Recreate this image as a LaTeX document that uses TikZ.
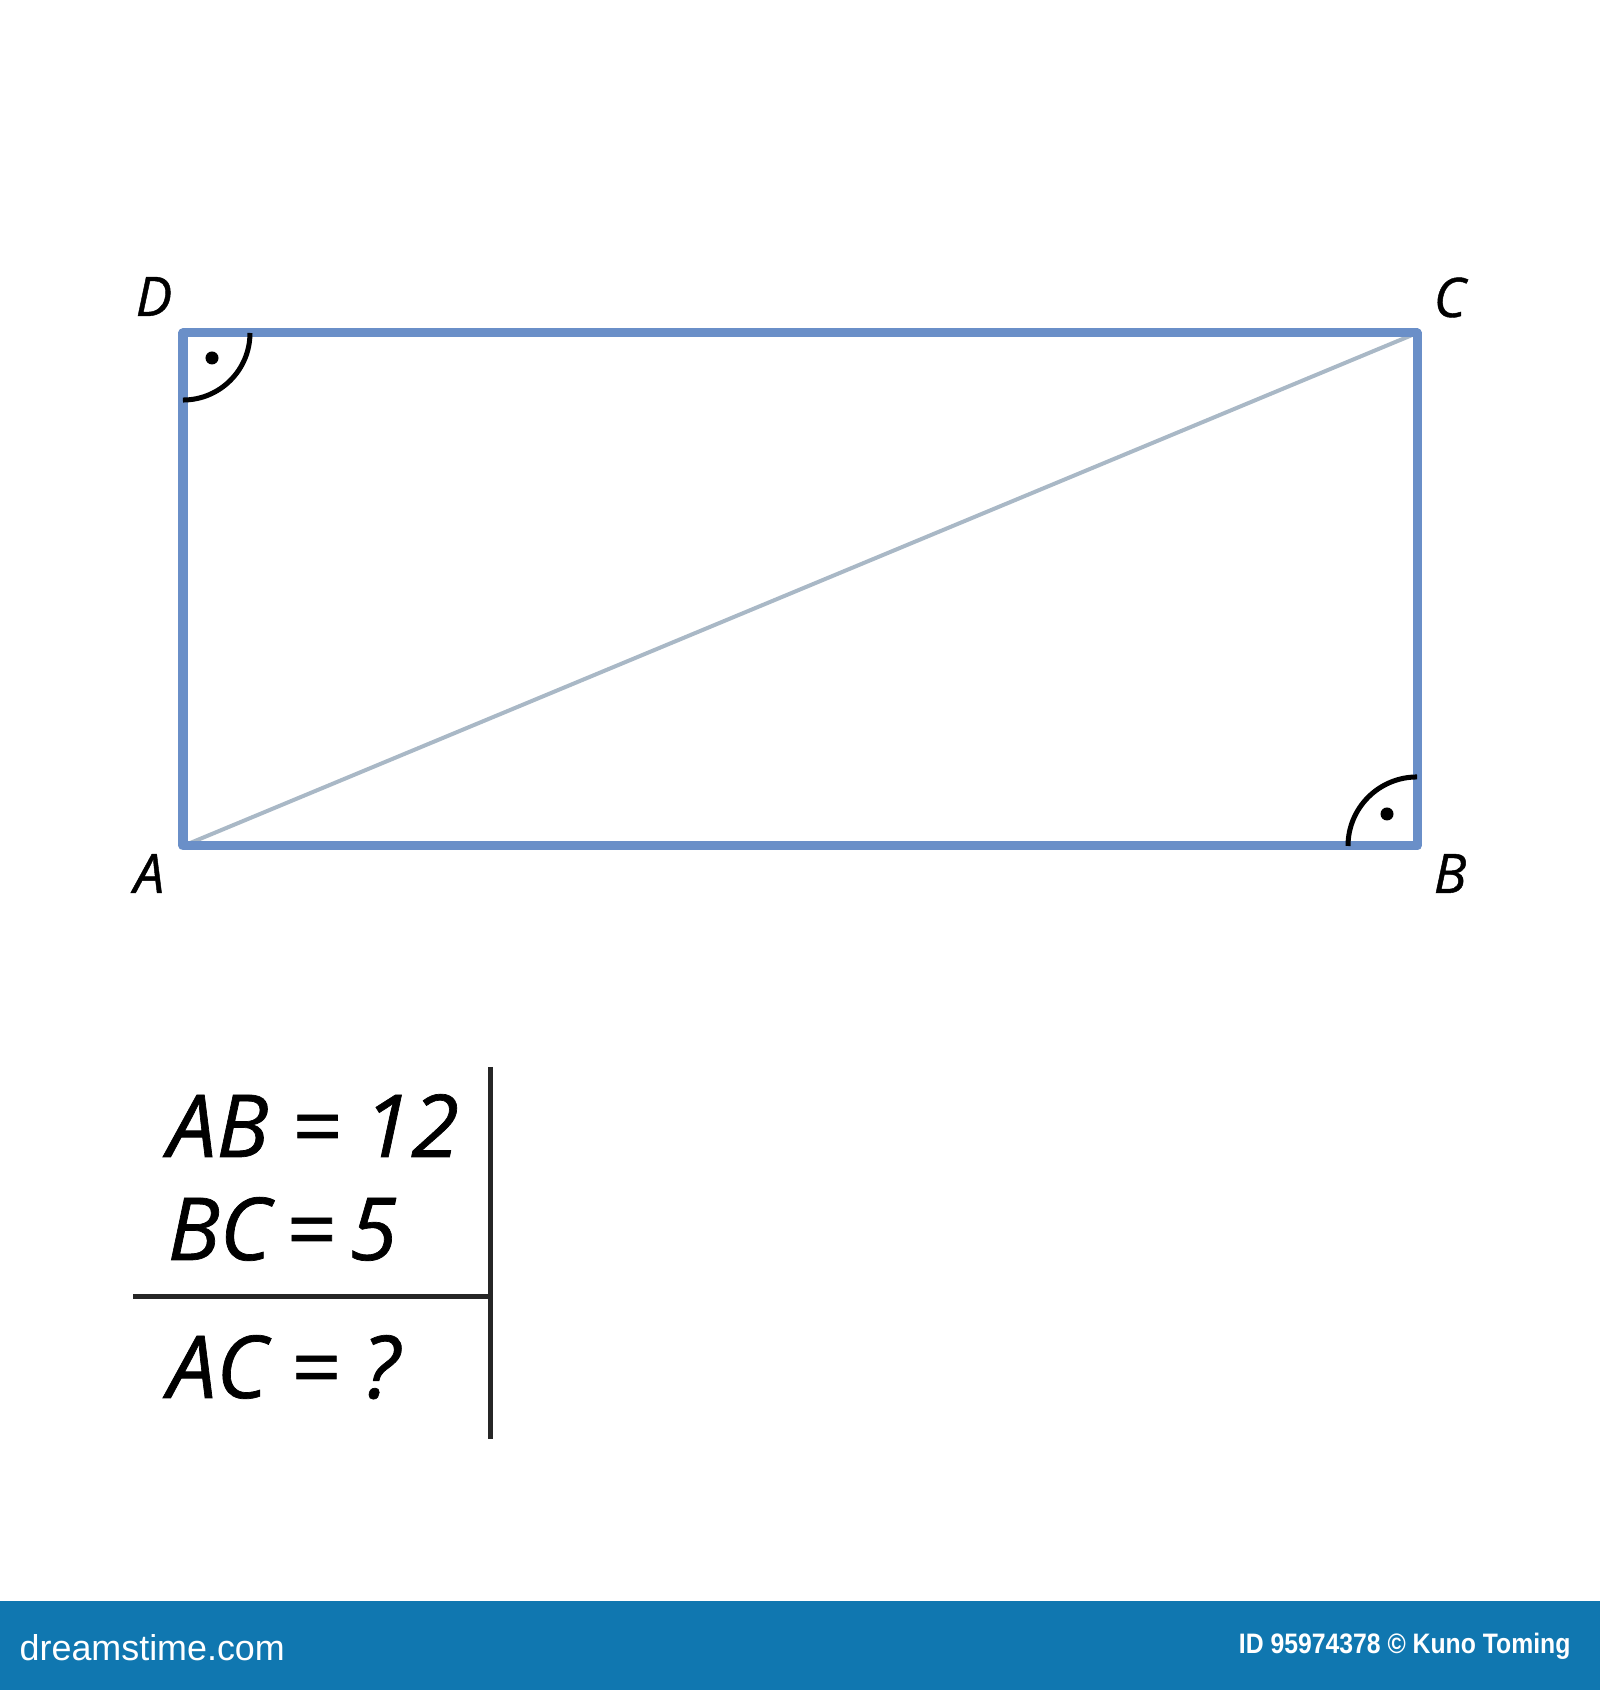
\documentclass[tikz,border=0pt]{standalone}
\usepackage{fontspec}
\setmainfont{Open Sans}
\newfontfamily\heavyfont{Open Sans}[FakeBold=0.8]
\newfontfamily\bannerfont{Liberation Sans}
\definecolor{rectblue}{HTML}{6A8FC8}
\definecolor{diagblue}{HTML}{A9B8C6}
\definecolor{bannerblue}{HTML}{1077B0}
\tikzset{
  vertex/.style={anchor=base west, inner sep=0pt, font=\heavyfont\fontsize{15.5}{18}\selectfont\itshape},
  given/.style={anchor=base west, inner sep=0pt, font=\heavyfont\fontsize{24.7}{28}\selectfont\itshape},
  rightmark/.style={line width=0.05cm, black}
}
\begin{document}
\begin{tikzpicture}[x=0.01cm, y=0.01cm]
\useasboundingbox (0, 0) rectangle (1600, 1690);
\coordinate (A) at (183, 844);
\coordinate (B) at (1417, 844);
\coordinate (C) at (1417, 1357);
\coordinate (D) at (183, 1357);
\draw[diagblue, line width=0.04cm] (A) -- (C);
\draw[rectblue, line width=0.09cm, line join=round] (A) -- (B) -- (C) -- (D) -- cycle;
\draw[rightmark] (250, 1357) arc[start angle=0, end angle=-90, radius=0.67cm];
\draw[rightmark] (1348, 844) arc[start angle=180, end angle=90, radius=0.69cm];
\coordinate (dotD) at (212, 1332);
\coordinate (dotB) at (1387, 876);
\fill (dotD) circle (0.065cm);
\fill (dotB) circle (0.065cm);
\node[vertex] (labD) at (135, 1374) {D};
\node[vertex] (labC) at (1433, 1373) {C};
\node[vertex] (labA) at (133, 797) {A};
\node[vertex] (labB) at (1433, 797) {B};
\node[given] (ab) at (167, 533) {AB = 12};
\node[given] (bc) at (167, 430) {BC\,=\,5};
\node[given] (ac) at (167, 292) {AC = ?};
\coordinate (hl) at (133, 393);
\coordinate (hr) at (490, 393);
\coordinate (vt) at (490, 623);
\coordinate (vb) at (490, 251);
\draw[line width=0.05cm, black!85] (hl) -- (hr);
\draw[line width=0.05cm, black!85] (vt) -- (vb);
\fill[bannerblue] (0, 0) rectangle (1600, 89);
\node[anchor=base west, inner sep=0pt, white, font=\bannerfont\fontsize{10.2}{12}\selectfont] (site) at (19, 30) {dreamstime.com};
\node[anchor=base east, inner sep=0pt, white, xscale=0.88, font=\bannerfont\bfseries\fontsize{8}{10}\selectfont] (credit) at (1571, 37) {ID 95974378 © Kuno Toming};
\end{tikzpicture}
\end{document}
